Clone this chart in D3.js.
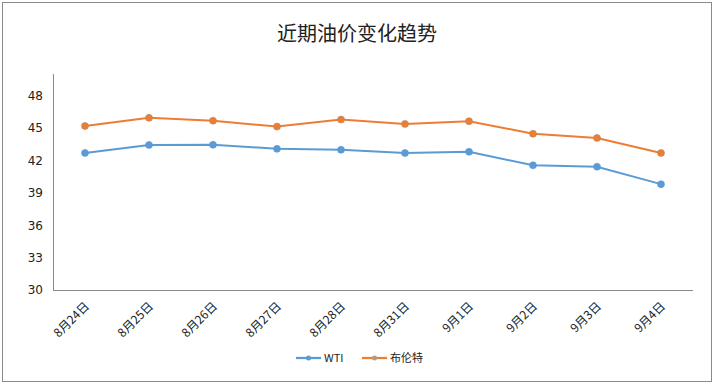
<!DOCTYPE html>
<html>
<head>
<meta charset="utf-8">
<script src="https://cdn.jsdelivr.net/npm/d3@7"></script>
<style>
    body { margin: 0; background: #fff; }
    svg { display: block; }
    .axis path, .axis line { stroke: #898989; }
    .axis text { fill: #222; }
</style>
</head>
<body>
<svg width="715" height="385"></svg>
<script>
"use strict";

var categories = ["8月24日", "8月25日", "8月26日", "8月27日", "8月28日",
    "8月31日", "9月1日", "9月2日", "9月3日", "9月4日"];
var wtiValues = [42.69, 43.43, 43.45, 43.07, 42.98,
    42.68, 42.8, 41.55, 41.42, 39.8];
var brentValues = [45.19, 45.94, 45.68, 45.13, 45.78,
    45.38, 45.63, 44.47, 44.08, 42.69];
var yTicks = [30, 33, 36, 39, 42, 45, 48];
var seriesNames = ["WTI", "布伦特"];

var svg = d3.select("svg");
var cjk = "'Noto Sans CJK SC', 'DejaVu Sans', sans-serif";
var colors = ["#5b9bd5", "#ed7d31"];

// chart frame
svg.append("rect")
    .attr("x", 2.5).attr("y", 2.5)
    .attr("width", 709).attr("height", 379)
    .attr("fill", "#fff")
    .attr("stroke", "#898989");

svg.append("text")
    .attr("x", 357).attr("y", 41)
    .attr("text-anchor", "middle")
    .style("font-family", cjk)
    .style("font-size", "20px")
    .attr("fill", "#222")
    .text("近期油价变化趋势");

var plot = {left: 53, right: 693, top: 74, bottom: 290};

var x = d3.scaleBand()
    .domain(categories)
    .range([plot.left, plot.right]);
var y = d3.scaleLinear()
    .domain([30, 50])
    .range([plot.bottom, plot.top]);

var yAxis = svg.append("g")
    .attr("class", "axis")
    .attr("transform", "translate(" + plot.left + ",0)")
    .call(d3.axisLeft(y).tickValues(yTicks).tickSize(0).tickPadding(10));
yAxis.select(".domain").attr("d",
        "M0.5," + plot.top + "V" + (plot.bottom + 0.5));
yAxis.selectAll("text")
    .style("font-family", "'DejaVu Sans', sans-serif")
    .style("font-size", "12px");

var xAxis = svg.append("g")
    .attr("class", "axis")
    .attr("transform", "translate(0," + (plot.bottom + 0.5) + ")")
    .call(d3.axisBottom(x).tickSize(0).tickFormat(""));
xAxis.select(".domain").attr("d",
        "M" + plot.left + ",0H" + plot.right);

svg.append("g")
    .selectAll("text")
    .data(categories)
    .join("text")
    .attr("transform", function (d) {
        return "translate(" + (x(d) + x.bandwidth() / 2 + 2) + "," +
                (plot.bottom + 14) + ") rotate(-45)";
    })
    .attr("text-anchor", "end")
    .attr("dy", "0.35em")
    .style("font-family", cjk)
    .style("font-size", "12px")
    .attr("fill", "#222")
    .text(function (d) {
        return d;
    });

var line = d3.line()
    .x(function (d, i) {
        return x(categories[i]) + x.bandwidth() / 2;
    })
    .y(function (d) {
        return y(d);
    });

[wtiValues, brentValues].forEach(function (values, k) {
    var g = svg.append("g");
    g.append("path")
        .datum(values)
        .attr("fill", "none")
        .attr("stroke", colors[k])
        .attr("stroke-width", 2)
        .attr("d", line);
    g.selectAll("circle")
        .data(values)
        .join("circle")
        .attr("cx", function (d, i) {
            return x(categories[i]) + x.bandwidth() / 2;
        })
        .attr("cy", function (d) {
            return y(d);
        })
        .attr("r", 3.5)
        .attr("fill", colors[k])
        .attr("stroke", k === 1 ? "#b08a70" : colors[k])
        .attr("stroke-width", 0.6);
});

// legend
var legendX = [296, 362];
seriesNames.forEach(function (name, k) {
    var lg = svg.append("g")
        .attr("transform", "translate(" + legendX[k] + ",358)");
    lg.append("line")
        .attr("x1", 0).attr("x2", 25)
        .attr("stroke", colors[k])
        .attr("stroke-width", 2.25);
    lg.append("circle")
        .attr("cx", 12.5).attr("r", 2.5)
        .attr("fill", k === 1 ? "#b59a86" : colors[k]);
    lg.append("text")
        .attr("x", 28).attr("dy", "0.35em")
        .style("font-family", cjk)
        .style("font-size", "11px")
        .attr("fill", "#222")
        .text(name);
});
</script>
</body>
</html>
